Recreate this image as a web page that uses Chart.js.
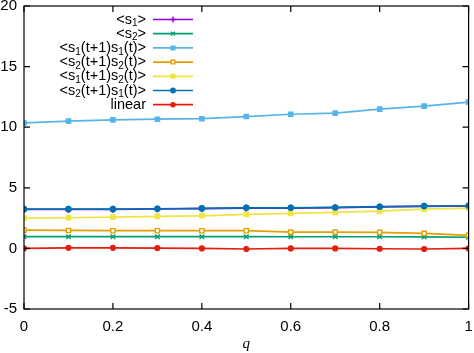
<!DOCTYPE html>
<html lang="en">
<head>
    <meta charset="UTF-8">
    <title>q plot</title>
    <script src="https://cdn.jsdelivr.net/npm/chart.js"></script>
    <style>
        html, body { margin: 0; padding: 0; background: #fff; }
        canvas { display: block; }
    </style>
</head>
<body>
    <canvas id="qChart" width="474" height="353"></canvas>

    <script>
        // data
        const qValues = [0, 0.1, 0.2, 0.3, 0.4, 0.5, 0.6, 0.7, 0.8, 0.9, 1.0];
        const s1 = [3.22, 3.22, 3.22, 3.25, 3.28, 3.33, 3.33, 3.36, 3.42, 3.47, 3.50];
        const s2 = [0.97, 0.97, 0.97, 0.97, 0.97, 0.97, 0.96, 0.96, 0.96, 0.95, 0.92];
        const s1s1 = [10.35, 10.5, 10.6, 10.66, 10.7, 10.88, 11.07, 11.16, 11.49, 11.74, 12.07];
        const s2s2 = [1.51, 1.48, 1.46, 1.46, 1.46, 1.46, 1.34, 1.34, 1.32, 1.24, 1.07];
        const s1s2 = [2.50, 2.53, 2.58, 2.64, 2.69, 2.80, 2.89, 2.97, 3.08, 3.24, 3.32];
        const s2s1 = [3.24, 3.24, 3.24, 3.27, 3.30, 3.35, 3.35, 3.38, 3.44, 3.49, 3.52];
        const linear = [0.0, 0.05, 0.05, 0.03, 0.0, -0.05, 0.0, 0.0, -0.03, -0.05, 0.0];

        const yTicks = [-5, 0, 5, 10, 15, 20];
        const xTicks = [0, 0.2, 0.4, 0.6, 0.8, 1];

        // "_x" = subscript character
        const seriesLabels = ['<s_1>', '<s_2>', '<s_1(t+1)s_1(t)>', '<s_2(t+1)s_2(t)>',
                              '<s_1(t+1)s_2(t)>', '<s_2(t+1)s_1(t)>', 'linear'];
        const seriesData = [s1, s2, s1s1, s2s2, s1s2, s2s1, linear];
        const colors = ['#9400d3', '#009e73', '#56b4e9', '#e69f00', '#f0e442', '#0072b2', '#e51e10'];
        const pointStyles = ['cross', 'crossRot', 'rect', 'rect', 'rect', 'circle', 'circle'];
        const pointFills = ['#9400d3', '#009e73', '#56b4e9', '#ffffff', '#f0e442', '#0072b2', '#e51e10'];
        const pointSizes = [3.6, 3.2, 3, 3, 3, 2.6, 2.4];

        const datasets = seriesLabels.map((lab, i) => ({
            label: lab,
            data: qValues.map((q, k) => ({ x: q, y: seriesData[i][k] })),
            borderColor: colors[i],
            backgroundColor: pointFills[i],
            pointBorderColor: colors[i],
            pointBackgroundColor: pointFills[i],
            pointStyle: pointStyles[i],
            pointRadius: pointSizes[i],
            pointBorderWidth: 1.4,
            borderWidth: 1.7,
            tension: 0,
            order: seriesLabels.length - i
        }));

        function drawLabel(ctx, text, xRight, y) {
            // split into normal / subscript runs
            const parts = [];
            for (let i = 0; i < text.length; i++) {
                if (text[i] === '_' && i + 1 < text.length) {
                    parts.push({ t: text[i + 1], sub: true });
                    i++;
                } else {
                    parts.push({ t: text[i], sub: false });
                }
            }
            const big = '14.5px "Liberation Sans", Arial, sans-serif';
            const small = '10px "Liberation Sans", Arial, sans-serif';
            let w = 0;
            parts.forEach(p => { ctx.font = p.sub ? small : big; w += ctx.measureText(p.t).width; });
            let x = xRight - w;
            ctx.fillStyle = '#000';
            ctx.textAlign = 'left';
            ctx.textBaseline = 'middle';
            parts.forEach(p => {
                ctx.font = p.sub ? small : big;
                ctx.fillText(p.t, x, p.sub ? y + 4 : y);
                x += ctx.measureText(p.t).width;
            });
        }

        const framePlugin = {
            id: 'frame',
            afterDraw(chart) {
                const ctx = chart.ctx;
                const a = chart.chartArea;
                const xs = chart.scales.x, ys = chart.scales.y;
                ctx.save();
                ctx.strokeStyle = '#000';
                ctx.lineWidth = 1.2;
                ctx.strokeRect(a.left, a.top, a.right - a.left, a.bottom - a.top);
                const len = 6;
                ctx.beginPath();
                xTicks.forEach(v => {
                    const px = xs.getPixelForValue(v);
                    ctx.moveTo(px, a.bottom); ctx.lineTo(px, a.bottom - len);
                    ctx.moveTo(px, a.top); ctx.lineTo(px, a.top + len);
                });
                yTicks.forEach(v => {
                    const py = ys.getPixelForValue(v);
                    ctx.moveTo(a.left, py); ctx.lineTo(a.left + len, py);
                    ctx.moveTo(a.right, py); ctx.lineTo(a.right - len, py);
                });
                ctx.stroke();

                // legend (text right-aligned, sample to the right)
                chart.data.datasets.forEach((ds, i) => {
                    const y = 19.5 + i * 14.2;
                    drawLabel(ctx, ds.label, 146, y);
                    ctx.strokeStyle = ds.borderColor;
                    ctx.lineWidth = ds.borderWidth;
                    ctx.beginPath();
                    ctx.moveTo(153, y); ctx.lineTo(193, y);
                    ctx.stroke();
                    ctx.fillStyle = ds.pointBackgroundColor;
                    ctx.lineWidth = ds.pointBorderWidth;
                    Chart.helpers.drawPoint(ctx, {
                        pointStyle: ds.pointStyle, radius: ds.pointRadius * 0.85, rotation: 0, borderWidth: ds.pointBorderWidth
                    }, 173, y);
                });
                ctx.restore();
            }
        };

        new Chart(document.getElementById('qChart').getContext('2d'), {
            type: 'line',
            data: { datasets: datasets },
            options: {
                responsive: false,
                animation: false,
                layout: { padding: { top: 6, right: 4, left: 0, bottom: 0 } },
                plugins: { legend: { display: false }, tooltip: { enabled: false } },
                scales: {
                    x: {
                        type: 'linear',
                        min: 0, max: 1,
                        afterFit(scale) { scale.height = 44; scale.paddingLeft = 0; scale.paddingRight = 0; },
                        afterBuildTicks(scale) { scale.ticks = xTicks.map(v => ({ value: v })); },
                        grid: { display: false, drawTicks: false },
                        border: { display: false },
                        ticks: {
                            padding: 9,
                            color: '#000',
                            maxRotation: 0,
                            autoSkip: false,
                            callback: v => String(v),
                            font: { family: '"Liberation Sans", Arial, sans-serif', size: 15 }
                        },
                        title: {
                            display: true,
                            text: 'q',
                            color: '#000',
                            padding: { top: 0, bottom: 0 },
                            font: { family: '"Liberation Serif", "DejaVu Serif", serif', size: 15, style: 'italic' }
                        }
                    },
                    y: {
                        min: -5, max: 20,
                        afterFit(scale) { scale.width = 24; scale.paddingTop = 0; scale.paddingBottom = 0; },
                        afterBuildTicks(scale) { scale.ticks = yTicks.map(v => ({ value: v })); },
                        grid: { display: false, drawTicks: false },
                        border: { display: false },
                        ticks: {
                            padding: 7,
                            color: '#000',
                            callback: v => String(v),
                            font: { family: '"Liberation Sans", Arial, sans-serif', size: 15 }
                        }
                    }
                }
            },
            plugins: [framePlugin]
        });
    </script>
</body>
</html>
